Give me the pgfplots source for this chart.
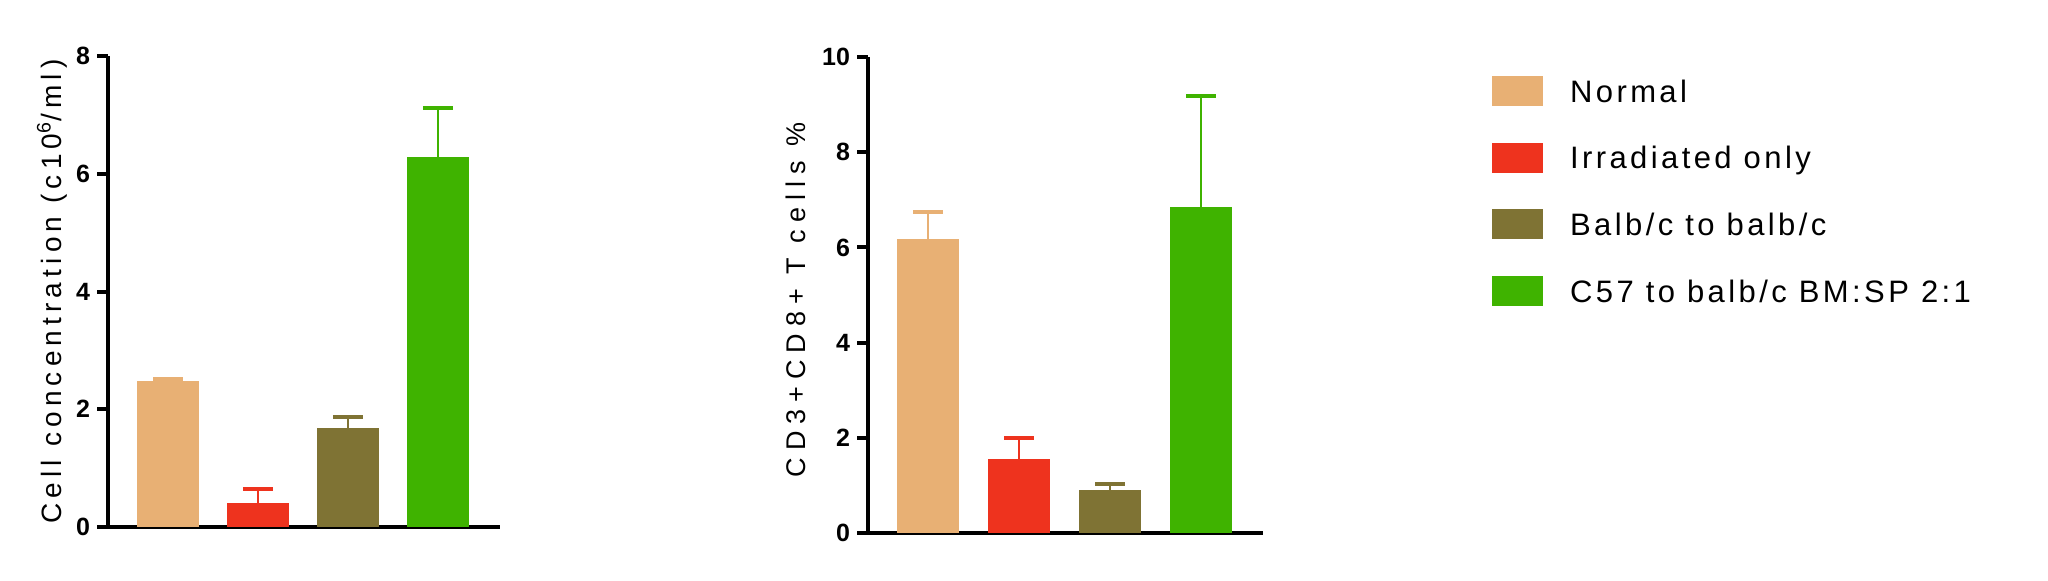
\documentclass[border=0pt]{standalone}
\usepackage{fontspec}
\setmainfont{Liberation Sans}
\newfontfamily\lsL[LetterSpace=18.5]{Liberation Sans}
\newfontfamily\lsR[LetterSpace=26]{Liberation Sans}
\newfontfamily\lsG[LetterSpace=11]{Liberation Sans}
\usepackage{pgfplots}
\pgfplotsset{compat=1.18}
\definecolor{cNormal}{RGB}{232,176,116}
\definecolor{cIrr}{RGB}{238,51,30}
\definecolor{cBalb}{RGB}{127,115,52}
\definecolor{cC57}{RGB}{63,179,0}
\pgfplotsset{
  mybars/.style={
    scale only axis, anchor=south west, clip=false,
    axis x line=bottom, axis y line=left,
    axis line style={-, line width=2pt, black},
    x axis line style={shorten <=-5.5pt},
    xtick=\empty,
    ytick style={line width=2pt, black},
    major tick length=5.5pt, tick align=outside,
    ymin=0,
    ticklabel style={font=\bfseries\fontsize{12.5}{14}\selectfont},
    /pgf/number format/assume math mode=true,
    ybar, bar width=31pt,
  },
  eb/.style={/pgfplots/error bars/.cd, y dir=plus, y explicit, error mark=|,
    error bar style={line width=1.1pt, #1},
    error mark options={line width=2pt, #1, mark size=7.5pt}, /pgfplots/.cd},
  sw/.style={/pgfplots/legend image code/.code={\fill[##1] (0pt,-7.5pt) rectangle (25.5pt,7.5pt);}},
}
\begin{document}
\begin{tikzpicture}
\useasboundingbox (0,0) rectangle (1024pt,290pt);
\begin{axis}[mybars, at={(54pt,26.5pt)}, width=196pt, height=235.5pt,
  xmin=-0.667, xmax=3.69, ymax=8, ytick={0,2,4,6,8},
  ylabel={\lsL\fontsize{14}{16}\selectfont Cell concentration (c10\textsuperscript{6}/ml)},
  ylabel style={at={(axis description cs:-0.143,0.5)}, anchor=center}]
\addplot[fill=cNormal, draw=none, bar shift=0pt, eb=cNormal] coordinates {(0,2.48) +- (0,0.03)};
\addplot[fill=cIrr, draw=none, bar shift=0pt, eb=cIrr] coordinates {(1,0.41) +- (0,0.23)};
\addplot[fill=cBalb, draw=none, bar shift=0pt, eb=cBalb] coordinates {(2,1.68) +- (0,0.19)};
\addplot[fill=cC57, draw=none, bar shift=0pt, eb=cC57] coordinates {(3,6.28) +- (0,0.84)};
\end{axis}
\begin{axis}[mybars, at={(434pt,23.5pt)}, width=197.5pt, height=238pt,
  xmin=-0.66, xmax=3.68, ymax=10, ytick={0,2,4,6,8,10},
  ylabel={\lsR\fontsize{13.5}{16}\selectfont CD3+CD8+ T cells \%},
  ylabel style={at={(axis description cs:-0.182,0.4895)}, anchor=center},
  legend cell align=left,
  legend style={at={(rel axis cs:1.58,0.9595)}, anchor=north west, draw=none,
    inner sep=0pt, outer sep=0pt, row sep=18.3pt, column sep=13.5pt,
    font=\lsG\fontsize{15.5}{18}\selectfont,
    nodes={inner sep=0pt, text height=11.1pt, text depth=0pt}}]
\addplot[fill=cNormal, draw=none, bar shift=0pt, sw, eb=cNormal] coordinates {(0,6.18) +- (0,0.57)};
\addlegendentry{Normal}
\addplot[fill=cIrr, draw=none, bar shift=0pt, sw, eb=cIrr] coordinates {(1,1.55) +- (0,0.44)};
\addlegendentry{Irradiated only}
\addplot[fill=cBalb, draw=none, bar shift=0pt, sw, eb=cBalb] coordinates {(2,0.90) +- (0,0.12)};
\addlegendentry{Balb/c to balb/c}
\addplot[fill=cC57, draw=none, bar shift=0pt, sw, eb=cC57] coordinates {(3,6.85) +- (0,2.34)};
\addlegendentry{C57 to balb/c BM:SP 2:1}
\end{axis}
\end{tikzpicture}
\end{document}
